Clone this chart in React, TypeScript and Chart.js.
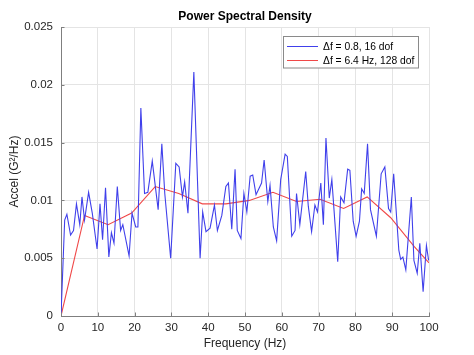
import React, { useEffect, useRef } from "react";
import { Chart, registerables } from "chart.js";

Chart.register(...registerables);

const chartTitle = "Power Spectral Density";
const xTitle = "Frequency (Hz)";
const yTitle = "Accel (G\u00B2/Hz)";
const blueLabel = "\u0394f = 0.8, 16 dof";
const redLabel = "\u0394f = 6.4 Hz, 128 dof";

const freqBlue = [0, 1.0, 1.6, 2.6, 3.4, 4.2, 5.1, 5.7, 6.4, 7.5, 8.5, 9.8, 10.6, 11.3, 12.1, 13.0, 13.7, 14.4, 15.3, 16.2, 16.8, 18.5, 19.3, 20.3, 20.9, 21.7, 22.7, 23.6, 24.8, 26.4, 27.4, 28.2, 29.8, 31.2, 32.1, 33.0, 33.6, 34.5, 36.1, 37.8, 38.5, 39.4, 40.5, 41.7, 42.5, 43.7, 44.8, 45.5, 46.4, 47.3, 47.9, 48.9, 49.7, 50.5, 51.4, 52.1, 53.0, 54.5, 55.2, 56.2, 56.8, 57.7, 58.6, 59.7, 60.9, 61.5, 62.7, 63.6, 64.0, 64.9, 66.5, 67.2, 68.1, 69.0, 69.7, 70.6, 71.3, 72.0, 72.9, 73.6, 75.2, 76.0, 76.9, 77.9, 78.5, 79.4, 80.2, 81.1, 81.7, 82.4, 83.3, 84.1, 85.7, 87.0, 88.0, 89.0, 89.6, 90.4, 91.8, 92.3, 92.9, 93.7, 95.2, 95.9, 96.8, 97.5, 98.4, 99.3, 99.9];
const psdBlue = [0, 0.0083, 0.0088, 0.0070, 0.0074, 0.0097, 0.0079, 0.0103, 0.0083, 0.0107, 0.0089, 0.0058, 0.0097, 0.0066, 0.0111, 0.0051, 0.0072, 0.0063, 0.0112, 0.0074, 0.0079, 0.0052, 0.0089, 0.0077, 0.0077, 0.0180, 0.0106, 0.0107, 0.0134, 0.0092, 0.0149, 0.0106, 0.0050, 0.0132, 0.0129, 0.0103, 0.0116, 0.0089, 0.0211, 0.0050, 0.0090, 0.0073, 0.0076, 0.0096, 0.0074, 0.0087, 0.0112, 0.0115, 0.0075, 0.0127, 0.0074, 0.0067, 0.0106, 0.0090, 0.0121, 0.0122, 0.0105, 0.0115, 0.0135, 0.0099, 0.0113, 0.0077, 0.0065, 0.0118, 0.0140, 0.0138, 0.0069, 0.0074, 0.0106, 0.0079, 0.0125, 0.0095, 0.0073, 0.0096, 0.0090, 0.0115, 0.0079, 0.0154, 0.0102, 0.0118, 0.0047, 0.0103, 0.0098, 0.0127, 0.0126, 0.0082, 0.0069, 0.0082, 0.0110, 0.0106, 0.0149, 0.0092, 0.0069, 0.0123, 0.0129, 0.0093, 0.0090, 0.0123, 0.0057, 0.0049, 0.0051, 0.0040, 0.0103, 0.0048, 0.0037, 0.0063, 0.0021, 0.0061, 0.0048];

const freqRed = [0, 6.4, 12.8, 19.2, 25.6, 32, 38.4, 44.8, 51.2, 57.6, 64, 70.4, 76.8, 83.2, 89.6, 96, 100];
const psdRed = [0, 0.0087, 0.0079, 0.0089, 0.0112, 0.0106, 0.0097, 0.0097, 0.0100, 0.0107, 0.0099, 0.0101, 0.0093, 0.0103, 0.0085, 0.0060, 0.0046];

const xMin = 0;
const xMax = 100;
const xStep = 10;
const yMin = 0;
const yMax = 0.025;
const yStep = 0.005;

const FONT = "'Liberation Sans', Arial, Helvetica, sans-serif";
const BLUE = "rgb(64,64,235)";
const RED = "rgb(240,72,72)";
const AXIS = "#7f7f7f";
const GRID = "#e4e4e4";
const TEXT = "#262626";

const overlayPlugin = {
  id: "overlay",
  afterDraw(chart: any) {
    const { ctx, chartArea } = chart;
    const xs = chart.scales.x;
    const ys = chart.scales.y;
    ctx.save();
    // inward ticks
    ctx.strokeStyle = AXIS;
    ctx.lineWidth = 1;
    ctx.beginPath();
    xs.ticks.forEach((t: any) => {
      const px = Math.round(xs.getPixelForValue(t.value)) + 0.5;
      ctx.moveTo(px, chartArea.bottom);
      ctx.lineTo(px, chartArea.bottom - 3.5);
    });
    ys.ticks.forEach((t: any) => {
      const py = Math.round(ys.getPixelForValue(t.value)) + 0.5;
      ctx.moveTo(chartArea.left, py);
      ctx.lineTo(chartArea.left + 3.5, py);
    });
    ctx.stroke();

    // title
    ctx.fillStyle = "#000";
    ctx.font = `bold 12px ${FONT}`;
    ctx.textAlign = "center";
    ctx.textBaseline = "middle";
    ctx.fillText(chartTitle, (chartArea.left + chartArea.right) / 2, 17);

    // legend
    const bx = 283.5, by = 36.5, bw = 135, bh = 31.5;
    ctx.fillStyle = "#fff";
    ctx.fillRect(bx, by, bw, bh);
    ctx.strokeStyle = "#8a8a8a";
    ctx.strokeRect(bx, by, bw, bh);
    const rows = [46, 60];
    ctx.font = `10.3px ${FONT}`;
    ctx.textAlign = "left";
    ctx.textBaseline = "middle";
    chart.data.datasets.forEach((ds: any, i: number) => {
      const y = rows[i];
      ctx.strokeStyle = ds.borderColor;
      ctx.lineWidth = 1;
      ctx.beginPath();
      ctx.moveTo(287, y + 0.5);
      ctx.lineTo(318, y + 0.5);
      ctx.stroke();
      ctx.fillStyle = "#000";
      ctx.fillText(ds.label, 323, y + 1);
    });
    ctx.restore();
  },
};

export default function App() {
  const ref = useRef<HTMLCanvasElement | null>(null);
  useEffect(() => {
    if (!ref.current) return;
    const chart = new Chart(ref.current, {
      type: "line",
      data: {
        datasets: [
          {
            label: blueLabel,
            data: freqBlue.map((f, i) => ({ x: f, y: psdBlue[i] })),
            borderColor: BLUE,
            borderWidth: 1.1,
            pointRadius: 0,
            tension: 0,
            fill: false,
          },
          {
            label: redLabel,
            data: freqRed.map((f, i) => ({ x: f, y: psdRed[i] })),
            borderColor: RED,
            borderWidth: 1.1,
            pointRadius: 0,
            tension: 0,
            fill: false,
          },
        ],
      },
      options: {
        responsive: false,
        animation: false,
        devicePixelRatio: 1,
        layout: { padding: { top: 27, right: 45, left: 0, bottom: 0 } },
        plugins: {
          legend: { display: false },
          title: { display: false },
          tooltip: { enabled: false },
        },
        scales: {
          x: {
            type: "linear",
            min: xMin,
            max: xMax,
            afterFit: (s: any) => {
              s.height = 39;
            },
            ticks: {
              stepSize: xStep,
              padding: 5,
              color: TEXT,
              font: { family: FONT, size: 11.5 },
              maxRotation: 0,
            },
            grid: { color: GRID, drawTicks: false },
            border: { display: true, color: AXIS, width: 1 },
            title: {
              display: true,
              text: xTitle,
              color: TEXT,
              font: { family: FONT, size: 12 },
              padding: { top: 0, bottom: 4 },
            },
          },
          y: {
            type: "linear",
            min: yMin,
            max: yMax,
            afterFit: (s: any) => {
              s.width = 61;
            },
            ticks: {
              stepSize: yStep,
              padding: 8,
              color: TEXT,
              font: { family: FONT, size: 11.5 },
              callback: (v: any) => String(Number(Number(v).toFixed(3))),
            },
            grid: { color: GRID, drawTicks: false },
            border: { display: true, color: AXIS, width: 1 },
            title: {
              display: true,
              text: yTitle,
              color: TEXT,
              font: { family: FONT, size: 12 },
              padding: { top: 7, bottom: 0 },
            },
          },
        },
      },
      plugins: [overlayPlugin],
    });
    return () => chart.destroy();
  }, []);
  return (
    <div style={{ position: "fixed", left: 0, top: 0, width: 474, height: 355, background: "#fff" }}>
      <canvas ref={ref} width={474} height={355} style={{ width: 474, height: 355 }} />
    </div>
  );
}
